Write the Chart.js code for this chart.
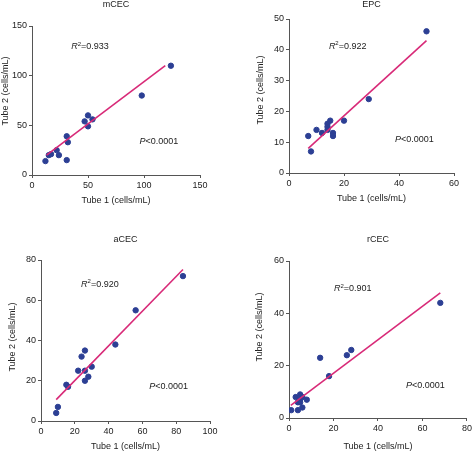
<!DOCTYPE html>
<html>
<head>
<meta charset="utf-8">
<script src="https://cdn.jsdelivr.net/npm/chart.js@4.4.1/dist/chart.umd.min.js"></script>
<style>
  body { margin: 0; background: #fff; }
  canvas { position: absolute; }
</style>
</head>
<body>
<canvas id="mcec" width="237" height="225" style="left:0;top:0"></canvas>
<canvas id="epc" width="237" height="225" style="left:237px;top:0"></canvas>
<canvas id="acec" width="237" height="230" style="left:0;top:225px"></canvas>
<canvas id="rcec" width="237" height="230" style="left:237px;top:225px"></canvas>
<script>
// values (Tube 1 vs Tube 2, cells/mL)
const mcecTube1 = [12, 15, 17, 22, 24, 31, 31, 32, 47, 50, 50, 54, 98, 124]
const mcecTube2 = [14, 20, 21, 25, 20, 15, 39, 33, 54, 60, 49, 56, 80, 110]
const mcecFitX = [13, 119]
const mcecFitY = [20, 110]

const epcTube1 = [7, 8, 10, 12, 14, 14, 14, 15, 16, 16, 20, 29, 50]
const epcTube2 = [12, 7, 14, 13, 16, 15, 14, 17, 13, 12, 17, 24, 46]
const epcFitX = [7, 50]
const epcFitY = [8, 43]

const acecTube1 = [9, 10, 15, 16, 22, 24, 26, 26, 26, 28, 30, 44, 56, 84]
const acecTube2 = [4, 7, 18, 17, 25, 32, 35, 25, 20, 22, 27, 38, 55, 72]
const acecFitX = [9, 84]
const acecFitY = [10.6, 75.3]

const rcecTube1 = [1, 3, 4, 5, 4, 5, 6, 6, 8, 5, 14, 18, 26, 28, 68]
const rcecTube2 = [3, 8, 3, 9, 6, 7, 4, 8, 7, 6, 23, 16, 24, 26, 44]
const rcecFitX = [0.8, 68]
const rcecFitY = [4.8, 47.8]

const FONT = '"Liberation Sans", Arial, sans-serif'
const TEXT = '#222'
const AXIS = '#555'

// panel title, y-axis title and the R2 / P labels
const panelText = {
  id: 'panelText',
  afterDraw(chart, args, opts) {
    const {ctx, chartArea, scales: {x, y}} = chart
    ctx.save()
    ctx.fillStyle = TEXT
    ctx.textBaseline = 'middle'

    ctx.font = '9px ' + FONT
    ctx.textAlign = 'center'
    ctx.fillText(opts.title, (chartArea.left + chartArea.right) / 2, opts.titleY)

    ctx.save()
    ctx.translate(opts.yTitle[0], opts.yTitle[1])
    ctx.rotate(-Math.PI / 2)
    ctx.fillText('Tube 2 (cells/mL)', 0, 0)
    ctx.restore()

    ctx.textAlign = 'left'
    let px = x.getPixelForValue(opts.r2At[0])
    let py = y.getPixelForValue(opts.r2At[1])
    ctx.font = 'italic 9px ' + FONT
    ctx.fillText('R', px, py)
    px += ctx.measureText('R').width
    ctx.font = '6px ' + FONT
    ctx.fillText('2', px, py - 3)
    px += ctx.measureText('2').width
    ctx.font = '9px ' + FONT
    ctx.fillText('=' + opts.r2, px, py)

    px = x.getPixelForValue(opts.pAt[0])
    py = y.getPixelForValue(opts.pAt[1])
    ctx.font = 'italic 9px ' + FONT
    ctx.fillText('P', px, py)
    px += ctx.measureText('P').width
    ctx.font = '9px ' + FONT
    ctx.fillText('<0.0001', px, py)
    ctx.restore()
  }
}

function axis(max, step, extra) {
  return Object.assign({
    type: 'linear',
    min: 0,
    max: max,
    ticks: { stepSize: step, color: TEXT, font: { family: FONT, size: 9 }, padding: 2 },
    grid: { drawOnChartArea: false, tickLength: 3, color: AXIS },
    border: { color: AXIS, width: 1 }
  }, extra)
}

function drawPanel(id, t1, t2, fitX, fitY, p) {
  const canvas = document.getElementById(id)
  const W = canvas.width, H = canvas.height
  new Chart(canvas, {
    type: 'scatter',
    data: {
      datasets: [
        {
          data: t1.map((v, i) => ({ x: v, y: t2[i] })),
          backgroundColor: '#2c3f94',
          borderColor: '#2c3f94',
          pointRadius: 2.7,
          order: 2
        },
        {
          type: 'line',
          data: fitX.map((v, i) => ({ x: v, y: fitY[i] })),
          borderColor: '#d82a78',
          borderWidth: 1.6,
          pointRadius: 0,
          order: 1
        }
      ]
    },
    options: {
      responsive: false,
      animation: false,
      layout: { padding: { left: 0, top: p.area[1], right: W - p.area[2], bottom: 0 } },
      plugins: {
        legend: { display: false },
        tooltip: { enabled: false },
        panelText: p.text
      },
      scales: {
        x: axis(p.xMax, p.xStep, {
          title: {
            display: true, text: 'Tube 1 (cells/mL)', color: TEXT,
            font: { family: FONT, size: 9 }, padding: { top: 2, bottom: p.xTitlePad }
          },
          afterFit(s) { s.height = H - p.area[3] }
        }),
        y: axis(p.yMax, p.yStep, {
          afterFit(s) { s.width = p.area[0] }
        })
      }
    },
    plugins: [panelText]
  })
}

drawPanel('mcec', mcecTube1, mcecTube2, mcecFitX, mcecFitY, {
  area: [32, 26, 200, 175], xMax: 150, xStep: 50, yMax: 150, yStep: 50, xTitlePad: 18.6,
  text: { title: 'mCEC', titleY: 5, yTitle: [6, 91], r2: '0.933', r2At: [35, 129], pAt: [96, 34] }
})
drawPanel('epc', epcTube1, epcTube2, epcFitX, epcFitY, {
  area: [52, 19, 217, 173], xMax: 60, xStep: 20, yMax: 50, yStep: 10, xTitlePad: 20.6,
  text: { title: 'EPC', titleY: 5, yTitle: [24, 90], r2: '0.922', r2At: [14.5, 41], pAt: [38.5, 11] }
})
drawPanel('acec', acecTube1, acecTube2, acecFitX, acecFitY, {
  area: [41, 35, 210, 196], xMax: 100, xStep: 20, yMax: 80, yStep: 20, xTitlePad: 2.6,
  text: { title: 'aCEC', titleY: 15, yTitle: [13, 112], r2: '0.920', r2At: [23.7, 68], pAt: [64, 17] }
})
drawPanel('rcec', rcecTube1, rcecTube2, rcecFitX, rcecFitY, {
  area: [52, 36, 230, 193], xMax: 80, xStep: 20, yMax: 60, yStep: 20, xTitlePad: 2.6,
  text: { title: 'rCEC', titleY: 15, yTitle: [23, 102], r2: '0.901', r2At: [20.2, 49.3], pAt: [52.6, 12.6] }
})
</script>
</body>
</html>
